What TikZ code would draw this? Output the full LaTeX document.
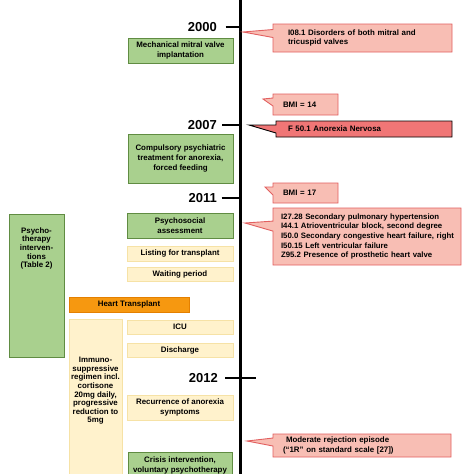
\documentclass[tikz,border=0pt]{standalone}
\usepackage{fontspec}
\setmainfont{Liberation Sans}
\usetikzlibrary{shapes.callouts}
\definecolor{gfill}{RGB}{169,208,142}
\definecolor{gline}{RGB}{96,140,66}
\definecolor{yfill}{RGB}{255,242,204}
\definecolor{yline}{RGB}{246,226,166}
\definecolor{ofill}{RGB}{246,152,16}
\definecolor{oline}{RGB}{228,128,0}
\definecolor{rfill}{RGB}{248,190,180}
\definecolor{rline}{RGB}{226,96,96}
\definecolor{dfill}{RGB}{240,118,118}
\begin{document}
\begin{tikzpicture}[x=1pt,y=-1pt,
  txt/.style={font=\fontsize{7.9}{9.6}\selectfont\bfseries, text=black},
  box/.style={txt, draw, line width=0.9pt, inner sep=0pt, align=center},
  gbox/.style={box, draw=gline, fill=gfill},
  ybox/.style={box, draw=yline, fill=yfill},
  obox/.style={box, draw=oline, fill=ofill},
  call/.style={txt, rectangle callout, draw=rline, fill=rfill, line width=0.9pt,
     inner ysep=0pt, callout pointer width=8pt, align=left},
  year/.style={font=\fontsize{13}{13}\selectfont\bfseries, anchor=east, inner sep=0pt},
  axis/.style={line width=2.6pt, black},
  tick/.style={line width=2.6pt, black}]
\useasboundingbox (0,0) rectangle (474,474);
\fill[white] (0,0) rectangle (474,474);
% axis
\coordinate (top) at (240.7,0);
\coordinate (bot) at (240.7,474);
\draw[axis] (top) -- (bot);
% years
\node[year] (y2000) at (217,27) {2000};
\node[year] (y2007) at (217,125) {2007};
\node[year] (y2011) at (217,198) {2011};
\node[year] (y2012) at (218,378) {2012};
\coordinate (a2000) at (240.7,27); \coordinate (s2000) at (225.5,27);
\coordinate (a2007) at (240.7,125); \coordinate (s2007) at (222,125);
\coordinate (a2011) at (240.7,198); \coordinate (s2011) at (221.7,198);
\coordinate (e2012) at (256,378); \coordinate (s2012) at (225,378);
\draw[tick] (s2000) -- (a2000);
\draw[tick] (s2007) -- (a2007);
\draw[tick] (s2011) -- (a2011);
\draw[tick] (s2012) -- (e2012);
% green boxes
\node[gbox, minimum width=105, minimum height=25] (mech) at (180.5,50.5) {Mechanical mitral valve\\implantation};
\node[gbox, minimum width=105, minimum height=49] (comp) at (180.5,158.5) {Compulsory psychiatric\\treatment for anorexia,\\forced feeding};
\node[gbox, minimum width=106, minimum height=25] (psyso) at (180,225.5) {Psychosocial\\assessment};
\node[gbox, minimum width=55, minimum height=143] (psyth) at (36.5,285.5) {};
\node[txt, align=center, inner sep=0pt, font=\fontsize{7.9}{8.6}\selectfont\bfseries] (psythtext) at (36.5,248.5) {Psycho-\\therapy\\interven-\\tions\\(Table 2)};
\node[gbox, minimum width=104, minimum height=27] (crisis) at (180,465.5) {Crisis intervention,\\voluntary psychotherapy};
% yellow boxes
\node[ybox, minimum width=106, minimum height=15] (listing) at (180,253.5) {Listing for transplant};
\node[ybox, minimum width=106, minimum height=14] (waiting) at (180,274) {Waiting period};
\node[ybox, minimum width=106, minimum height=14] (icu) at (180,327) {ICU};
\node[ybox, minimum width=106, minimum height=14] (discharge) at (180,350) {Discharge};
\node[ybox, minimum width=106, minimum height=25] (recur) at (180,407.5) {Recurrence of anorexia\\symptoms};
\node[ybox, minimum width=53, minimum height=160] (immuno) at (95.5,399) {};
\node[txt, align=center, inner sep=0pt, font=\fontsize{7.9}{8.6}\selectfont\bfseries] (immunotext) at (95.5,391) {Immuno-\\suppressive\\regimen incl.\\cortisone\\20mg daily,\\progressive\\reduction to\\5mg};
% orange
\node[obox, minimum width=120, minimum height=15] (heart) at (129,304.5) {Heart Transplant};
% callouts
\node[call, inner xsep=15pt, text width=149pt, minimum height=28, callout absolute pointer={(243,32)}] (c1) at (362.5,38) {I08.1 Disorders of both mitral and\\tricuspid valves};
\node[call, inner xsep=10pt, text width=45pt, minimum height=21, callout absolute pointer={(263,99)}] (bmi14) at (305.5,104.5) {BMI = 14};
\node[call, draw=black, fill=dfill, inner xsep=12pt, text width=152pt, minimum height=16, callout absolute pointer={(249,125)}] (f50) at (364,129) {F 50.1 Anorexia Nervosa};
\node[call, inner xsep=10pt, text width=45pt, minimum height=20, callout absolute pointer={(265,187)}] (bmi17) at (305.5,193) {BMI = 17};
\node[call, inner xsep=6pt, text width=176pt, minimum height=57, callout pointer width=10pt, callout absolute pointer={(245,223)}, font=\fontsize{7.8}{9.6}\selectfont\bfseries] (c5) at (367,236.5) {\hspace{2pt}I27.28 Secondary pulmonary hypertension\\\hspace{2pt}I44.1 Atrioventricular block, second degree\\\hspace{2pt}I50.0 Secondary congestive heart failure, right\\\hspace{2pt}I50.15 Left ventricular failure\\\hspace{2pt}Z95.2 Presence of prosthetic heart valve};
\node[call, inner xsep=10pt, text width=158pt, minimum height=23, callout absolute pointer={(247,441)}] (rej) at (362,445.5) {\hspace{3pt}Moderate rejection episode\\(“1R” on standard scale [27])};
\end{tikzpicture}
\end{document}
